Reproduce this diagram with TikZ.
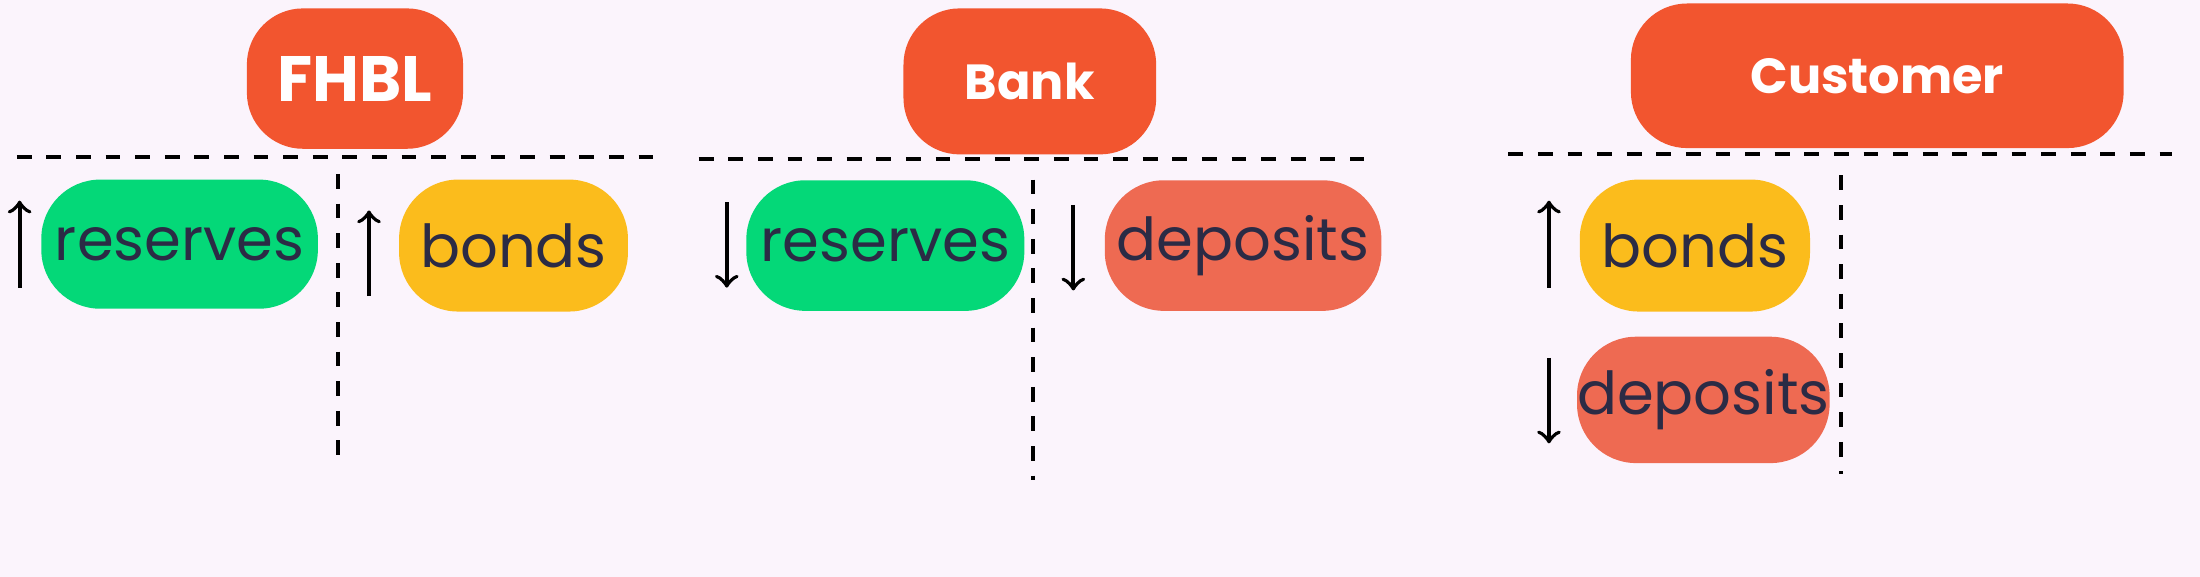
\documentclass[tikz,border=0pt]{standalone}
\usepackage{fontspec}
\setmainfont{Poppins}
\usetikzlibrary{positioning}
\definecolor{bgcol}{HTML}{FBF4FC}
\definecolor{headcol}{HTML}{F2552F}
\definecolor{greencol}{HTML}{04D878}
\definecolor{yellowcol}{HTML}{FBBC1C}
\definecolor{salmoncol}{HTML}{EE6A52}
\definecolor{txtcol}{HTML}{2B2B45}
\tikzstyle{head} = [fill=headcol, rounded corners=0.4cm, text=white, font=\bfseries\fontsize{10}{12}\selectfont]
\tikzstyle{item} = [rounded corners=0.42cm, text=txtcol, font=\fontsize{12}{14}\selectfont, inner sep=0]
\tikzstyle{rule} = [dashed, thick]
\tikzstyle{move} = [->, thick]

\begin{document}
\begin{tikzpicture}[x=0.01cm, y=-0.01cm]
    \fill[bgcol] (0,0) rectangle (1568,411);
    \useasboundingbox (0,0) rectangle (1568,411);

    % FHBL
    \node[head, font=\bfseries\fontsize{13}{15}\selectfont, minimum width=1.54cm, minimum height=1.0cm] (fhbl) at (253,56) {FHBL};
    \coordinate (fl) at (12,112);  \coordinate (fr) at (470,112);
    \coordinate (ft) at (241,124); \coordinate (fb) at (241,328);
    \node[item, fill=greencol, minimum width=1.97cm, minimum height=0.92cm] (fres) at (128,174) {reserves};
    \node[item, fill=yellowcol, minimum width=1.63cm, minimum height=0.94cm] (fbond) at (366,175) {bonds};
    \coordinate (fa1) at (14,205);  \coordinate (fa2) at (14,143);
    \coordinate (fb1) at (263,211); \coordinate (fb2) at (263,150);

    % Bank
    \node[head, minimum width=1.80cm, minimum height=1.04cm] (bank) at (734,58) {Bank};
    \coordinate (bl) at (498,113); \coordinate (br) at (972,113);
    \coordinate (bt) at (736,128); \coordinate (bb) at (736,342);
    \node[item, fill=greencol, minimum width=1.98cm, minimum height=0.93cm] (bres) at (631,175) {reserves};
    \node[item, fill=salmoncol, minimum width=1.97cm, minimum height=0.93cm] (bdep) at (886,175) {deposits};
    \coordinate (ba1) at (518,144); \coordinate (ba2) at (518,205);
    \coordinate (bb1) at (765,146); \coordinate (bb2) at (765,207);

    % Customer
    \node[head, minimum width=3.51cm, minimum height=1.03cm] (cust) at (1338,54) {Customer};
    \coordinate (cl) at (1075,110); \coordinate (cr) at (1548,110);
    \coordinate (ct) at (1312,125); \coordinate (cb) at (1312,338);
    \node[item, fill=yellowcol, minimum width=1.64cm, minimum height=0.94cm] (cbond) at (1208,175) {bonds};
    \node[item, fill=salmoncol, minimum width=1.76cm, minimum height=0.90cm] (cdep) at (1214,285) {deposits};
    \coordinate (ca1) at (1104,205); \coordinate (ca2) at (1104,143);
    \coordinate (cb1) at (1104,255); \coordinate (cb2) at (1104,316);

    \foreach \a / \b in {fl/fr, ft/fb, bl/br, bt/bb, cl/cr, ct/cb}{
    \draw[rule] (\a) -- (\b);
    }
    \foreach \a / \b in {fa1/fa2, fb1/fb2, ba1/ba2, bb1/bb2, ca1/ca2, cb1/cb2}{
    \draw[move] (\a) -- (\b);
    }
\end{tikzpicture}
\end{document}
